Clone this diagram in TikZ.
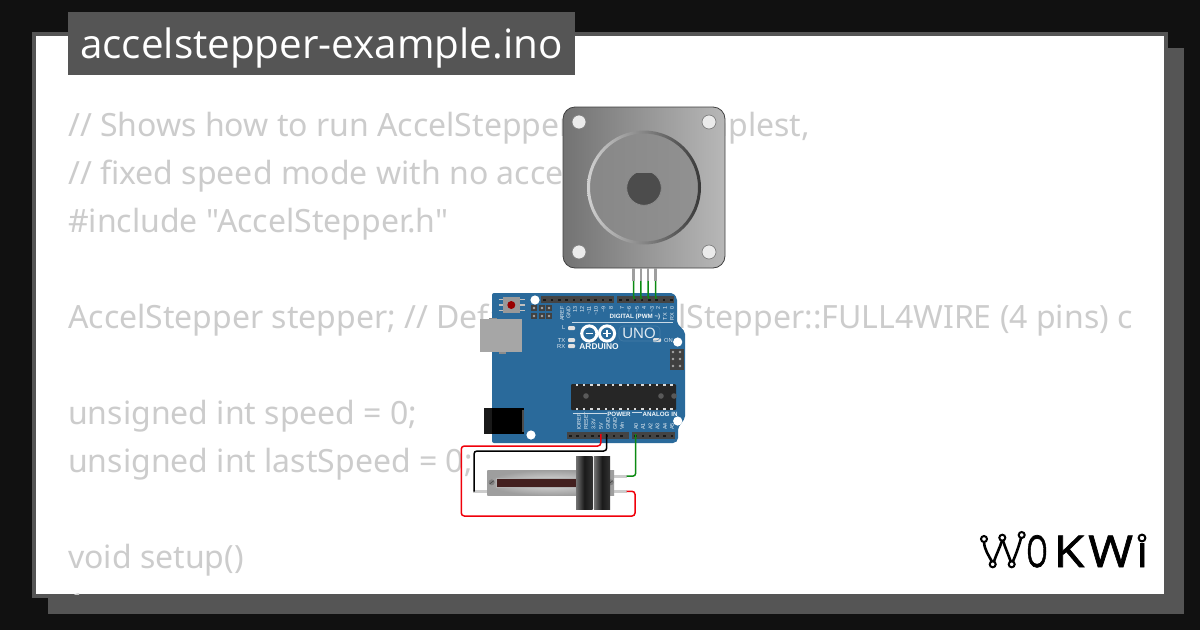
\documentclass[tikz,border=0pt]{standalone}
\usepackage{fontspec}
\newfontfamily\codefont{Noto Sans}
\newfontfamily\titlefont{Open Sans}
\newfontfamily\smallfont{Liberation Sans}
\newfontfamily\logofont{Open Sans}[FakeBold=1.5]
\definecolor{bgdark}{HTML}{111111}
\definecolor{frame}{HTML}{555555}
\definecolor{codegray}{HTML}{CCCCCC}
\definecolor{board}{HTML}{2A6A9B}
\definecolor{header}{HTML}{444444}
\definecolor{wiregreen}{HTML}{0C8A12}
\definecolor{wirered}{HTML}{F0000A}
\definecolor{track}{HTML}{43201F}
\tikzset{
  code/.style={anchor=base west,inner sep=0pt,text=codegray,font=\codefont\fontsize{32}{32}\selectfont},
  pinlab/.style={inner sep=0pt,rotate=90,text=white!90!board,font=\smallfont\fontsize{5.4}{5.4}\selectfont},
  boardlab/.style={inner sep=0pt,text=white!95!board,font=\smallfont\bfseries\fontsize{6.2}{6.2}\selectfont},
  ledlab/.style={inner sep=0pt,text=white!85!board,font=\smallfont\fontsize{5.8}{5.8}\selectfont},
  led/.style={fill=white!88!black,rounded corners=1pt},
  wire/.style={line width=1.5pt,rounded corners=3pt},
  legpin/.style={line width=2.4pt,color=black!20},
  logoletter/.style={anchor=base west,inner sep=0pt,text=black,font=\logofont\fontsize{44}{44}\selectfont},
}
\begin{document}
\begin{tikzpicture}[x=1pt,y=-1pt]
\useasboundingbox (0,0) rectangle (1200,630);
\fill[bgdark] (0,0) rectangle (1200,630);
\fill[frame] (48,48) rectangle (1184,614);
\fill[frame] (32,32) rectangle (1168,598);
\fill[white] (36,36) rectangle (1164,594);
\begin{scope}
\clip (36,36) rectangle (1164,594);
\node[code] (c1) at (68,136) {// Shows how to run AccelStepper in the simplest,};
\node[code] (c2) at (68,184) {// fixed speed mode with no acceleration};
\node[code] (c3) at (68,232) {\#include "AccelStepper.h"};
\node[code] (c4) at (68,328) {AccelStepper stepper; // Defaults to AccelStepper::FULL4WIRE (4 pins) c};
\node[code] (c5) at (68,424) {unsigned int speed = 0;};
\node[code] (c6) at (68,472) {unsigned int lastSpeed = 0;};
\node[code] (c7) at (68,568) {void setup()};
\node[code] (c8) at (68,616) {\{};
\end{scope}
\fill[frame] (68,12) rectangle (575,75);
\node[anchor=base west,inner sep=0pt,text=white,font=\titlefont\fontsize{40.4}{40.4}\selectfont] (title) at (80,58) {accelstepper-example.ino};

% ---- stepper motor
\shade[left color=black!55,right color=black!28,draw=black!75,line width=.8pt,rounded corners=12pt] (563,107) rectangle (725,268);
\foreach \hx/\hy in {579/122,709/122,579/252,709/252}
  \fill[black!8,draw=black!50,line width=.7pt] (\hx,\hy) circle (7);
\shade[left color=black!47,right color=black!43] (644,187.5) circle (56);
\shade[even odd rule,left color=black!18,middle color=black!45,right color=black!78] (644,187.5) circle (57) circle (54);
\begin{scope}
\clip (620,172.5) rectangle (670,215);
\fill[black!70,draw=black!45,line width=.8pt] (644,188) circle (17.3);
\end{scope}
\draw[black!45,line width=.8pt] (634,172.5) -- (654,172.5);

% ---- Arduino board
\fill[board,rounded corners=2pt] (492,293) -- (673,293) -- (677,298) -- (677,323) -- (685,332) -- (685,418) -- (678,428) -- (678,440) -- (675,443) -- (492,443) -- cycle;
\foreach \hx/\hy in {535/300,677.7/342,677.7/421,531/435}
  \fill[white] (\hx,\hy) circle (4.6);
% headers
\fill[header] (541,296) rectangle (614,303);
\fill[header] (617,296) rectangle (674,303);
\fill[header] (567,432) rectangle (629,439);
\fill[header] (632,432) rectangle (675,439);
\foreach \i in {0,...,9} \fill[black!90] (544.6+\i*7.3-1.3,298.5) rectangle ++(2.6,2);
\foreach \i in {0,...,7} \fill[black!90] (620.2+\i*7.3-1.3,298.5) rectangle ++(2.6,2);
\foreach \i in {0,...,7} \fill[black!90] (570.3+\i*7.3-1.3,434.5) rectangle ++(2.6,2);
\foreach \i in {0,...,5} \fill[black!90] (635.5+\i*7.3-1.3,434.5) rectangle ++(2.6,2);
% reset button
\foreach \ly in {299.5,305,310.5} \draw[black!25,line width=1.2pt] (498.5,\ly) -- (524.5,\ly);
\fill[black!40] (503,297) rectangle (520,313);
\fill[red!60!black] (511.3,305) circle (4);
% ICSP
\foreach \px in {534,542,549} \foreach \py in {308,316} {
  \fill[black!75] (\px-3,\py-3) rectangle ++(6,6);
  \fill[black!35] (\px,\py) circle (1.3);
}
\foreach \px in {673,680} \foreach \py in {352,359,366} {
  \fill[black!75] (\px-3.5,\py-3.5) rectangle ++(7,7);
  \fill[black!35] (\px,\py) circle (1.3);
}
% USB
\fill[black!35] (480,319) rectangle (522,352);
\fill[black!45] (499,352) rectangle (506,354);
\fill[black!45] (489,318) rectangle (497,319);
% jack
\fill[black] (488,408) rectangle (524,434);
\fill[black!90] (484,408) rectangle (492,434);
\fill[black!70] (522,410) rectangle (524,432);
% chip
\fill[black!85,rounded corners=1pt] (571,384) rectangle (676,410);
\foreach \i in {0,...,13} {
  \fill[white!85!black] (575.5+\i*7.3,384) rectangle ++(2.4,1.6);
  \fill[white!85!black] (575.5+\i*7.3,408.4) rectangle ++(2.4,1.6);
}
\foreach \cx in {586,661,674} \fill[black!65] (\cx,396) circle (2.8);
% labels top
\node[pinlab,anchor=east] (l1) at (562,306) {AREF};
\node[pinlab,anchor=east] (l2) at (568.5,306) {GND};
\node[pinlab,anchor=east] (l3) at (575,306) {13};
\node[pinlab,anchor=east] (l4) at (582,306) {12};
\node[pinlab,anchor=east] (l5) at (589,306) {\textasciitilde 11};
\node[pinlab,anchor=east] (l6) at (596,306) {\textasciitilde 10};
\node[pinlab,anchor=east] (l7) at (603.5,306) {\textasciitilde 9};
\node[pinlab,anchor=east] (l8) at (611,306) {8};
\node[pinlab,anchor=east] (l9) at (622,306) {7};
\node[pinlab,anchor=east] (l10) at (629,306) {\textasciitilde 6};
\node[pinlab,anchor=east] (l11) at (637,306) {\textasciitilde 5};
\node[pinlab,anchor=east] (l12) at (644,306) {4};
\node[pinlab,anchor=east] (l13) at (652,306) {\textasciitilde 3};
\node[pinlab,anchor=east] (l14) at (658,306) {2};
\node[pinlab,anchor=east] (l15) at (665,306) {1};
\node[pinlab,anchor=east] (l16) at (672,306) {0};
\node[pinlab,anchor=east] (l17) at (665,313) {TX};
\node[pinlab,anchor=east] (l18) at (672,313) {RX};
\node[boardlab,anchor=east] (dig) at (660.5,317) {DIGITAL (PWM \textasciitilde)};
\draw[white!75!board,line width=.6pt] (572,322) -- (673,322);
% labels bottom
\node[pinlab,anchor=west] (b1) at (579,430) {IOREF};
\node[pinlab,anchor=west] (b2) at (586,430) {RESET};
\node[pinlab,anchor=west] (b3) at (593.5,430) {3.3V};
\node[pinlab,anchor=west] (b4) at (601,430) {5V};
\node[pinlab,anchor=west] (b5) at (608,430) {GND};
\node[pinlab,anchor=west] (b6) at (615,430) {GND};
\node[pinlab,anchor=west] (b7) at (622,430) {Vin};
\node[pinlab,anchor=west] (b8) at (636,430) {A0};
\node[pinlab,anchor=west] (b9) at (643,430) {A1};
\node[pinlab,anchor=west] (b10) at (650.5,430) {A2};
\node[pinlab,anchor=west] (b11) at (657.5,430) {A3};
\node[pinlab,anchor=west] (b12) at (665,430) {A4};
\node[pinlab,anchor=west] (b13) at (672,430) {A5};
\node[boardlab] (power) at (619,414.5) {POWER};
\node[boardlab,anchor=west] (analog) at (642.5,414.5) {ANALOG IN};
\draw[white!75!board,line width=.5pt] (573,413) -- (607,413);
\draw[white!75!board,line width=.5pt] (631.5,412) -- (642,412);
% leds and their labels
\fill[led] (568,326) rectangle (575,330);
\fill[led] (568,338) rectangle (575,342);
\fill[led] (568,344) rectangle (575,348);
\fill[led] (653,338) rectangle (661,342);
\node[ledlab,anchor=east] (ll) at (565.5,327.5) {L};
\node[ledlab,anchor=east] (ltx) at (565.5,340) {TX};
\node[ledlab,anchor=east] (lrx) at (565.5,346) {RX};
\node[ledlab,anchor=west] (lon) at (664,340) {ON};
% logo
\draw[white,line width=3pt] (589.3,333.5) circle (7.6);
\draw[white,line width=3pt] (607,333.5) circle (7.6);
\draw[white,line width=1.4pt] (585.5,333.5) -- (593,333.5);
\draw[white,line width=1.4pt] (603.2,333.5) -- (610.8,333.5) (607,329.8) -- (607,337.2);
\node[boardlab,font=\smallfont\bfseries\fontsize{8.4}{8.4}\selectfont] (ardu) at (599,346.5) {ARDUINO};
\draw[white!12!board,line width=.6pt,rounded corners=4pt] (619,326) rectangle (660,341);
\node[inner sep=0pt,text=white!85!board,font=\smallfont\fontsize{15}{15}\selectfont] (uno) at (639,333.5) {UNO};

% ---- slide potentiometer
\draw[legpin] (473.3,491.3) -- (487.3,491.3);
\draw[legpin] (614,476.3) -- (627,476.3);
\draw[legpin] (614,491.3) -- (627,491.3);
\shade[inner color=black!12,outer color=black!38] (487.3,470) rectangle (614,495.3);
\fill[black!40,draw=black!30,line width=1pt] (496,478.3) rectangle (578,487);
\fill[track] (496.5,478.8) rectangle (578,486.5);
\foreach \sx in {491.7,610.7} {
  \fill[black!50] (\sx,482.3) circle (3);
  \draw[black!75,line width=.6pt] (\sx-2,483.8) -- (\sx+2,480.8);
}
\shade[left color=black!55,right color=black!80,middle color=black!90] (576,456) rectangle (592.6,509.3);
\shade[left color=black!55,right color=black!80,middle color=black!90] (594,456) rectangle (610,509.3);
\fill[black!8] (592.6,456) rectangle (594,509.3);

% ---- wires
\coordinate (m1) at (633.5,281);
\coordinate (m2) at (640.8,281);
\coordinate (m3) at (648.2,281);
\coordinate (m4) at (655.5,281);
\coordinate (d1) at (634.6,298.5);
\coordinate (d2) at (641.9,298.5);
\coordinate (d3) at (649.2,298.5);
\coordinate (d4) at (656.5,298.5);
\coordinate (t1) at (633.5,268);
\coordinate (t2) at (640.8,268);
\coordinate (t3) at (648.2,268);
\coordinate (t4) at (655.5,268);
\foreach \k in {1,2,3,4} {
  \draw[line width=2.4pt,black!38] (m\k) -- (t\k);
  \draw[wire,wiregreen,rounded corners=1pt] (m\k) -- (m\k |- d\k) -- (d\k);
}
\coordinate (v5) at (600.8,434);
\coordinate (gnd) at (606.7,434);
\coordinate (a0) at (635.7,434);
\coordinate (potl) at (474,491.7);
\coordinate (potr1) at (626.7,476.2);
\coordinate (potr2) at (626.7,491.3);
\draw[wire,black] (gnd) -- (606.7,451) -- (474,451) -- (potl);
\draw[wire,wirered] (v5) -- (600.8,446) -- (461.3,446) -- (461.3,516) -- (635,516) -- (635,491.3) -- (potr2);
\draw[wire,wiregreen] (a0) -- (635.7,476.2) -- (potr1);

% ---- Wokwi logo
\begin{scope}[line width=2.6pt,line cap=round,black]
\draw (984,542) .. controls (984.5,550) and (989,556) .. (991.8,561.3);
\draw (994,561.3) .. controls (997,553) and (1000,547) .. (1002,540.7);
\draw (1003,540.7) .. controls (1005,547) and (1008,554) .. (1010.7,561.3);
\draw (1013,561.3) .. controls (1016,554) and (1019,546) .. (1021,538);
\foreach \cx/\cy in {984/539,1002.3/537.7,1021.7/535,992.7/564.3,1011.7/564.3}
  \draw[fill=white,line width=2pt] (\cx,\cy) circle (3);
\end{scope}
\node[logoletter,xscale=.62] (logoO) at (1026.3,567) {O};
\node[logoletter,xscale=1.13] (logoK) at (1053.5,567) {K};
\node[logoletter,xscale=1.1] (logoW) at (1088,567) {W};
\node[logoletter] (logoI) at (1136.5,567) {i};
\fill[white,draw=black,line width=2pt] (1142,538) circle (3.4);
\end{tikzpicture}
\end{document}
